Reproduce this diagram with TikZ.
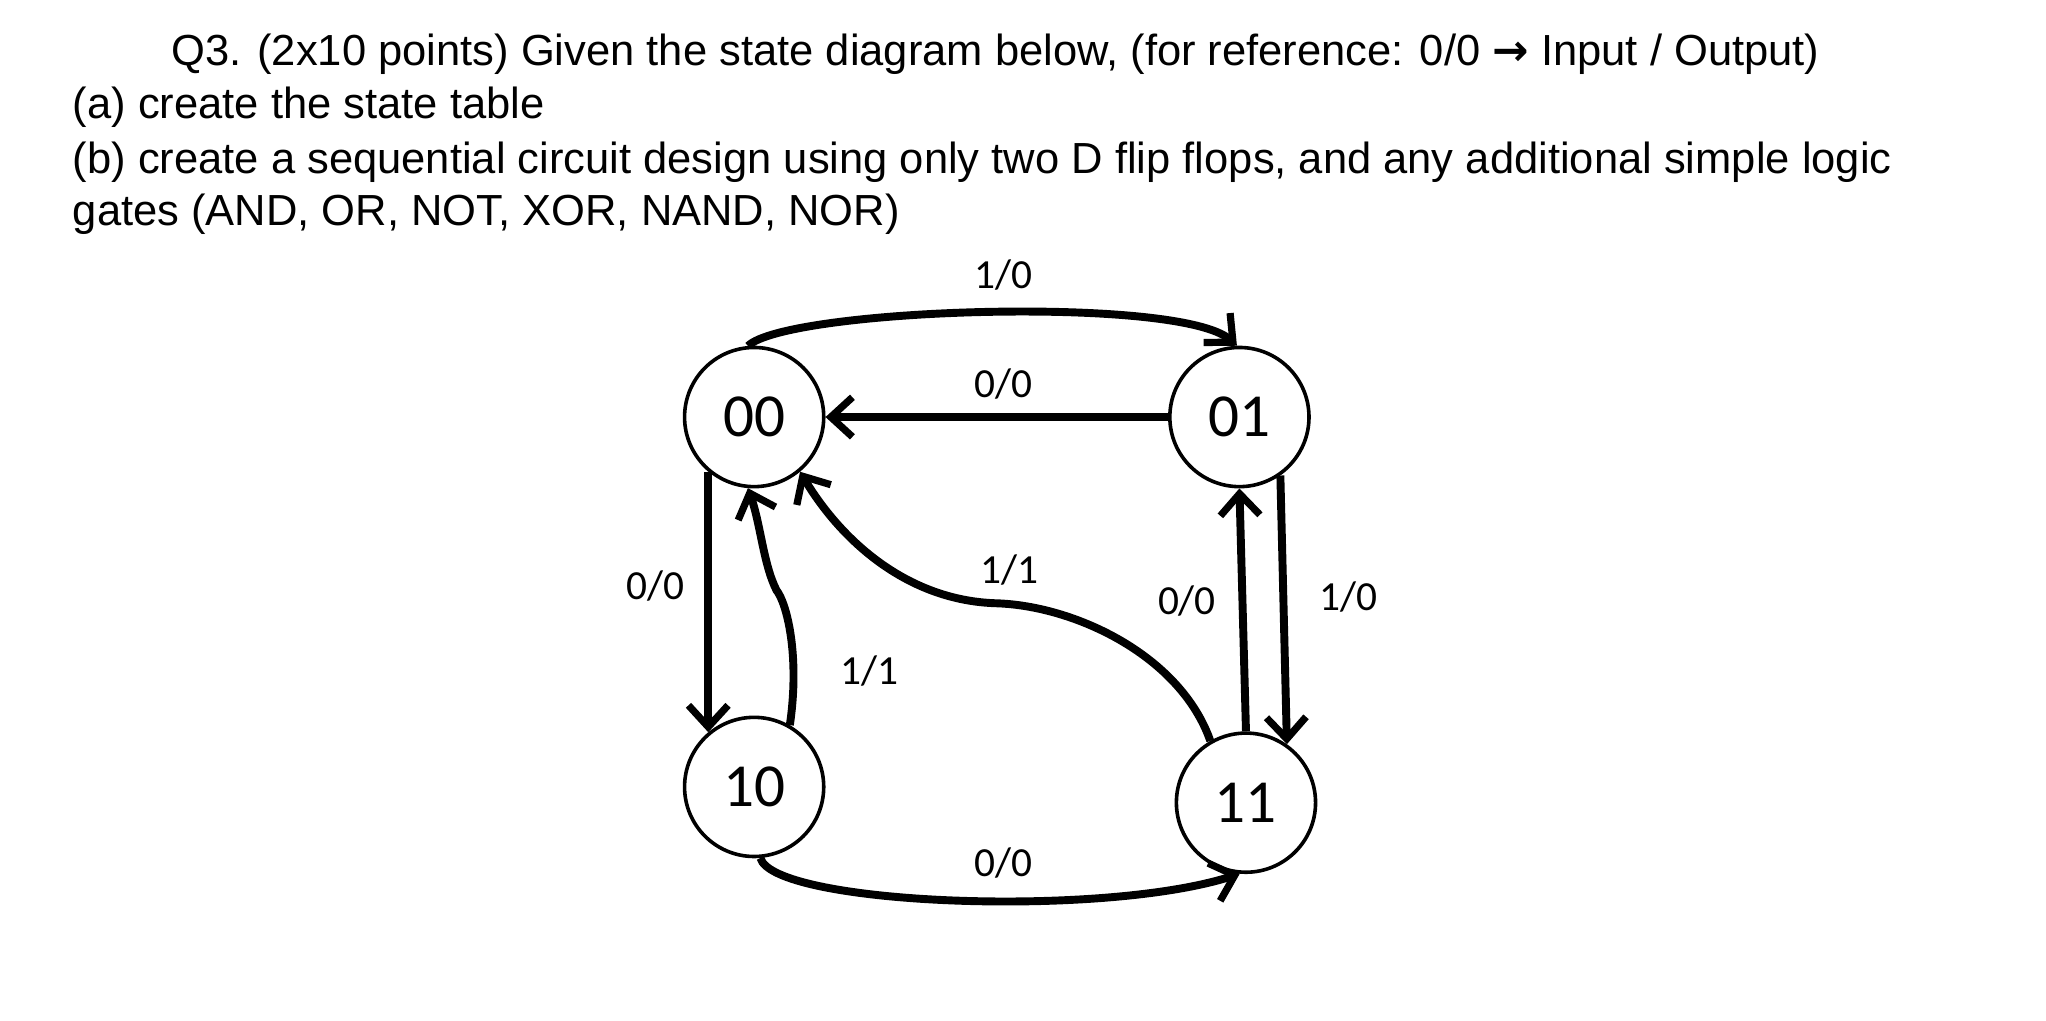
\documentclass[tikz,border=0pt]{standalone}
\usepackage{fontspec}
\setmainfont{Liberation Sans}
\newfontfamily\lab{Carlito}
\newfontfamily\arr{DejaVu Sans}
\usetikzlibrary{arrows.meta}
\begin{document}
\begin{tikzpicture}[x=0.01282cm,y=-0.01282cm,
  st/.style={circle,draw,line width=1pt,inner sep=0pt,minimum size=1.36cm,font=\lab\fontsize{17}{17}\selectfont},
  tr/.style={line width=2.2pt,-{Straight Barb[length=6pt,width=11pt,line width=2pt]}},
  lb/.style={font=\lab\fontsize{11.5}{12}\selectfont},
  tx/.style={anchor=base west,inner sep=0pt,font=\fontsize{12.1}{14}\selectfont}]
\useasboundingbox (0,0) rectangle (1560,778);
\node[tx] (t1) at (130,50) {Q3. (2x10 points) Given the state diagram below, (for reference: 0/0 {\arr\bfseries →} Input / Output)};
\node[tx] (t2) at (55,90) {(a) create the state table};
\node[tx] (t3) at (55,132) {(b) create a sequential circuit design using only two D flip flops, and any additional simple logic};
\node[tx] (t4) at (55,172) {gates (AND, OR, NOT, XOR, NAND, NOR)};
\node[st] (s00) at (575,318) {00};
\node[st] (s01) at (945,318) {01};
\node[st] (s10) at (575,600) {10};
\node[st] (s11) at (950,612) {11};
\draw[tr] (s00.95) .. controls (600,235) and (900,225) .. (s01.92);
\draw[tr] (s01.west) -- (s00.east);
\draw[tr] (s00.230) -- (s10.130);
\draw[tr] (s10.60) .. controls (610,500) and (600,460) .. (592,450) .. controls (582,430) and (580,400) .. (s00.265);
\draw[tr] (s11.120) .. controls (900,500) and (820,462) .. (760,460) .. controls (690,458) and (640,410) .. (s00.310);
\draw[tr] (s11.90) -- (s01.270);
\draw[tr] (s01.305) -- (s11.55);
\draw[tr] (s10.275) .. controls (590,690) and (840,700) .. (s11.265);
\node[lb] (l1) at (765,210) {1/0};
\node[lb] (l2) at (765,293) {0/0};
\node[lb] (l3) at (500,447) {0/0};
\node[lb] (l4) at (770,435) {1/1};
\node[lb] (l5) at (663,512) {1/1};
\node[lb] (l6) at (905,458) {0/0};
\node[lb] (l7) at (1028,455) {1/0};
\node[lb] (l8) at (765,658) {0/0};
\end{tikzpicture}
\end{document}
